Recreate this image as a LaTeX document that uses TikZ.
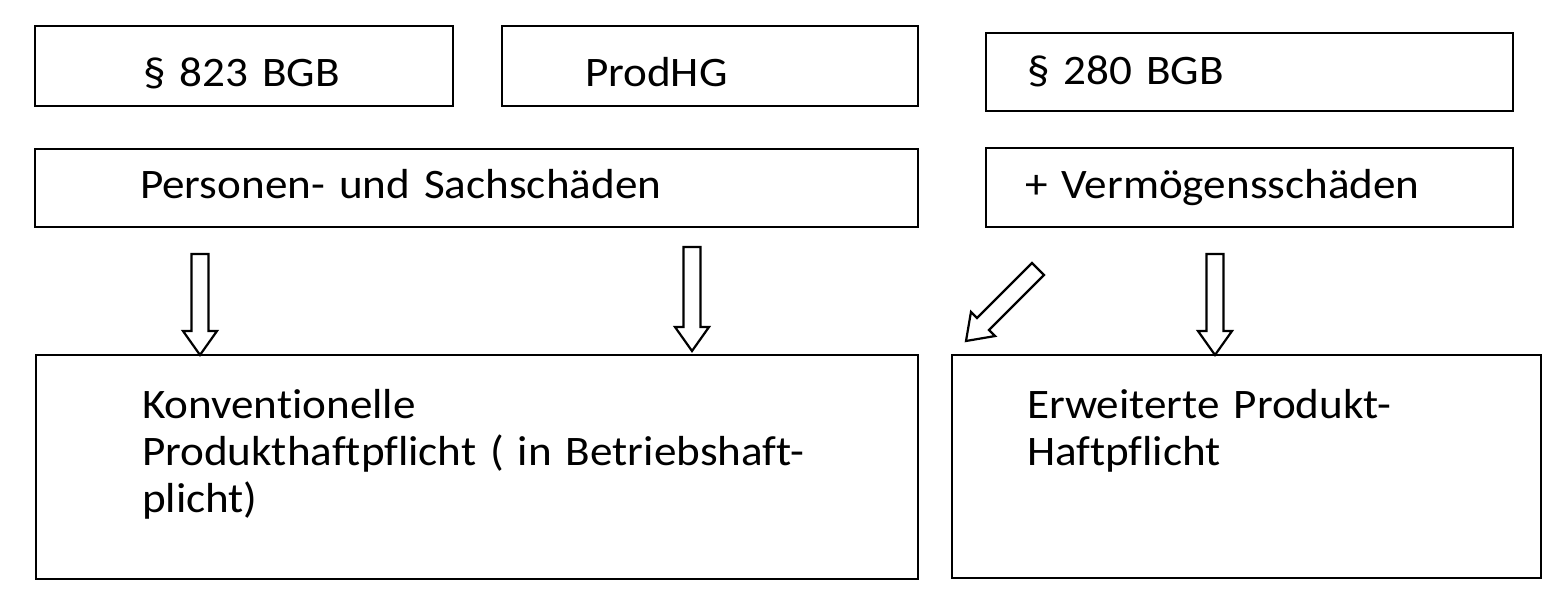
\documentclass[tikz,border=0pt]{standalone}
\usepackage{fontspec}
\setmainfont{Carlito}[FakeStretch=1.075, RawFeature=-liga]
\usetikzlibrary{calc, positioning}

% hollow block arrow from a tail coordinate to a tip coordinate
\newcommand{\hollowarrow}[2]{%
  \coordinate (hb) at ($(#2)!12pt!(#1)$);
  \draw[blockarr] ($(#1)!4.25pt!90:(#2)$) -- ($(hb)!4.25pt!90:(#2)$) -- ($(hb)!8.5pt!90:(#2)$) -- (#2)
    -- ($(hb)!8.5pt!-90:(#2)$) -- ($(hb)!4.25pt!-90:(#2)$) -- ($(#1)!4.25pt!-90:(#2)$) -- cycle;
}

\begin{document}
\begin{tikzpicture}[
    x=0.5pt, y=-0.5pt,
    font=\fontsize{21}{23.5}\selectfont,
    box/.style={draw, line width=1.4pt, align=left, outer sep=0pt, inner ysep=0pt, text height=13.3pt, text depth=0pt},
    blockarr/.style={draw, line width=1.1pt, line join=miter, fill=white}
]
    \useasboundingbox (0,0) rectangle (1564,604);

    % upper row: legal bases
    \node[box, minimum width=209pt, minimum height=40pt, inner xsep=54pt, text width=101pt, text height=20.3pt] (bgb823) at (244,66) {§ 823 BGB};
    \node[box, minimum width=208pt, minimum height=40pt, inner xsep=41.5pt, text width=125pt, text height=20.3pt] (prodhg) at (710,66) {ProdHG};
    \node[box, minimum width=263.5pt, minimum height=39pt, inner xsep=20.5pt, text width=222.5pt, text depth=1pt] (bgb280) at (1249.5,72) {§ 280 BGB};

    % covered damages
    \node[box, minimum width=441.5pt, minimum height=39pt, inner xsep=52.5pt, text width=336.5pt, text depth=3pt] (schaeden) at (476.5,188) {Personen- und Sachschäden};
    \node[box, minimum width=263.5pt, minimum height=39.5pt, inner xsep=19.5pt, text width=224.5pt, text depth=2.5pt] (vermoegen) at (1249.5,187.5) {+ Vermögensschäden};

    % resulting insurance
    \node[box, minimum width=441pt, minimum height=112pt, inner xsep=53pt, text width=335pt, text depth=61.5pt] (konv) at (477,467)
        {Konventionelle\\\mbox{Produkthaftpflicht ( in Betriebshaft-}\\plicht)};
    \node[box, minimum width=294.5pt, minimum height=111.5pt, inner xsep=37.5pt, text width=219.5pt, text depth=61.5pt] (erw) at (1246.5,466.5)
        {Erweiterte Produkt-\\Haftpflicht};

    \coordinate (a1tail) at (200,254);
    \coordinate (a1tip) at (konv.north -| a1tail);
    \coordinate (a2tail) at (692,247);
    \coordinate (a2tip) at ($(konv.north -| a2tail)+(0,-4)$);
    \coordinate (a3tail) at (1215,254);
    \coordinate (a3tip) at (erw.north -| a3tail);
    \coordinate (a4tail) at (1038,269);
    \coordinate (a4tip) at ($(erw.north west)+(14,-14)$);

    \hollowarrow{a1tail}{a1tip}
    \hollowarrow{a2tail}{a2tip}
    \hollowarrow{a3tail}{a3tip}
    \hollowarrow{a4tail}{a4tip}
\end{tikzpicture}
\end{document}
